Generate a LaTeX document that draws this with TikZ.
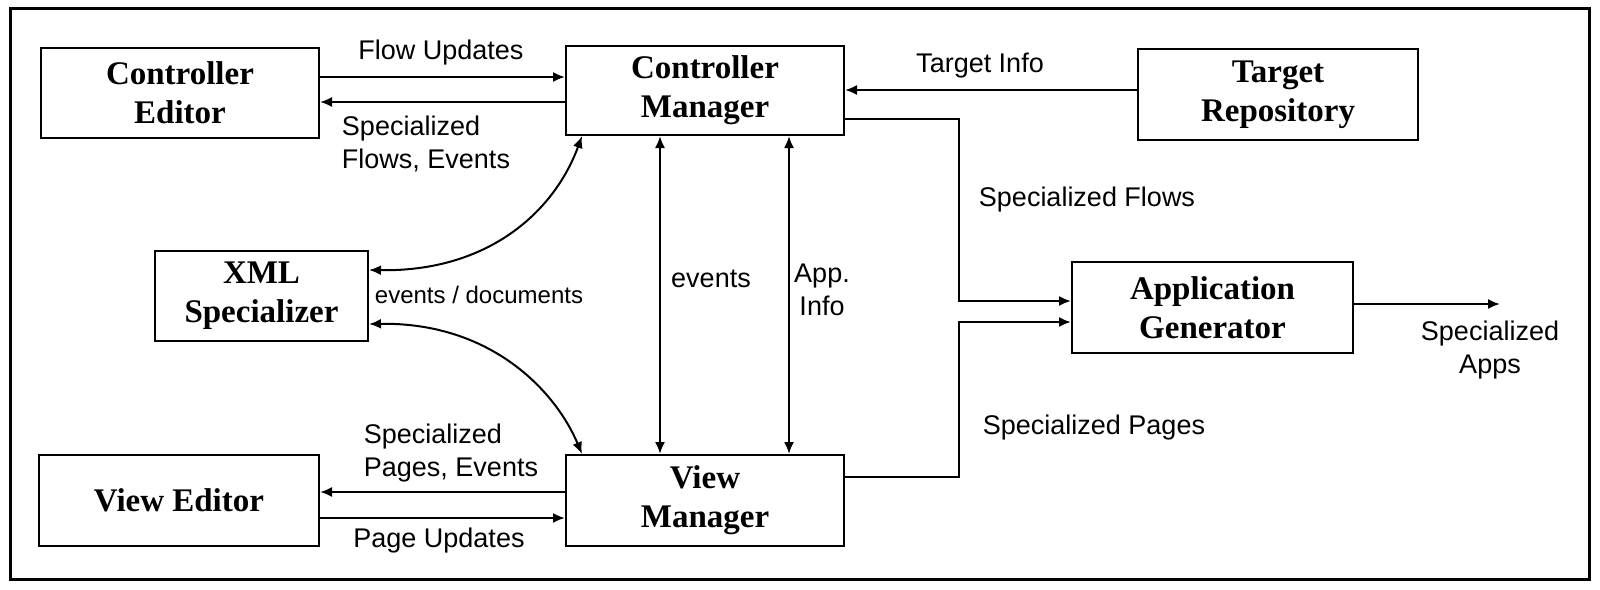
\documentclass[tikz,border=0pt]{standalone}
\usepackage{fontspec}
\setmainfont{Liberation Serif}
\setsansfont{Liberation Sans}
\usetikzlibrary{arrows.meta}

\tikzset{
  box/.style={draw, line width=2pt, align=center, inner sep=0pt,
    font=\fontsize{33}{39}\selectfont\bfseries},
  lbl/.style={font=\sffamily\fontsize{27}{33}\selectfont, inner sep=0pt},
  >={Latex[length=12pt,width=10pt]}
}

\begin{document}
\begin{tikzpicture}[x=1pt,y=-1pt,line width=2pt]
\useasboundingbox (0,0) rectangle (1600,589);
\draw[line width=3pt] (10,8) rectangle (1589,579);

\node[box,minimum width=278pt,minimum height=90pt] (ctrledit) at (180,93) {Controller\\Editor};
\node[box,minimum width=278pt,minimum height=89pt] (ctrlmgr) at (705,90.5) {Controller\\Manager};
\node[box,minimum width=280pt,minimum height=91pt] (targetrepo) at (1278,94.5) {Target\\Repository};
\node[box,minimum width=213pt,minimum height=90pt] (xmlspec) at (261.5,296) {XML\\Specializer};
\node[box,minimum width=281pt,minimum height=91pt] (appgen) at (1212.5,307.5) {Application\\Generator};
\node[box,minimum width=280pt,minimum height=91pt] (viewedit) at (179,500.5) {View Editor};
\node[box,minimum width=278pt,minimum height=91pt] (viewmgr) at (705,500.5) {View\\Manager};

\draw[->] (ctrledit.east |- 0,77) -- (ctrlmgr.west |- 0,77);
\draw[->] (ctrlmgr.west |- 0,102) -- (ctrledit.east |- 0,102);
\draw[->] (targetrepo.west |- 0,90) -- (ctrlmgr.east |- 0,90);
\draw[->] (ctrlmgr.east |- 0,119) -- (959,119) -- (959,301) -- (appgen.west |- 0,301);
\draw[->] (viewmgr.east |- 0,477) -- (959,477) -- (959,322) -- (appgen.west |- 0,322);
\draw[->] (appgen.east |- 0,304) -- (1500,304);
\draw[->] (viewmgr.west |- 0,492) -- (viewedit.east |- 0,492);
\draw[->] (viewedit.east |- 0,518) -- (viewmgr.west |- 0,518);
\draw[<->] (ctrlmgr.south -| 660,0) -- (viewmgr.north -| 660,0);
\draw[<->] (ctrlmgr.south -| 789,0) -- (viewmgr.north -| 789,0);
\draw[<->] (xmlspec.east |- 0,270) .. controls (490,272) and (555,210) .. (ctrlmgr.south -| 582,0);
\draw[<->] (xmlspec.east |- 0,324) .. controls (490,322) and (555,390) .. (viewmgr.north -| 582,0);

\node[lbl] (lflowupd) at (441,53) {Flow Updates};
\node[lbl,align=left] (lspecflows) at (426,144) {Specialized\\Flows, Events};
\node[lbl] (ltarget) at (980,66) {Target Info};
\node[lbl] (lspecfl) at (1087,200) {Specialized Flows};
\node[lbl,font=\sffamily\fontsize{24}{28}\selectfont] (levdoc) at (479,295) {events / documents};
\node[lbl] (levents) at (711,279) {events};
\node[lbl,align=center] (lappinfo) at (822,290) {App.\\Info};
\node[lbl] (lspecpg) at (1094,428) {Specialized Pages};
\node[lbl,align=center] (lspecapps) at (1490,350) {Specialized\\Apps};
\node[lbl,align=left] (lspecpages) at (451,453) {Specialized\\Pages, Events};
\node[lbl] (lpageupd) at (439,541) {Page Updates};
\end{tikzpicture}
\end{document}
